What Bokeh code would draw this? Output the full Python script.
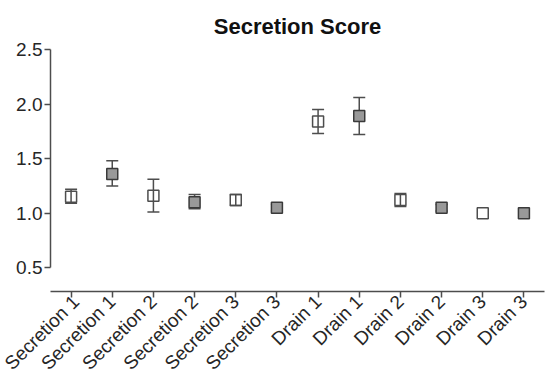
import math
from bokeh.plotting import figure
from bokeh.models import FixedTicker, Range1d, ColumnDataSource
from bokeh.embed import file_html
from bokeh.resources import INLINE

categories = ["Secretion 1", "Secretion 1", "Secretion 2", "Secretion 2", "Secretion 3", "Secretion 3",
              "Drain 1", "Drain 1", "Drain 2", "Drain 2", "Drain 3", "Drain 3"]
filled = [False, True, False, True, False, True, False, True, False, True, False, True]
means = [1.15, 1.36, 1.16, 1.10, 1.12, 1.05, 1.84, 1.89, 1.12, 1.05, 1.00, 1.00]
upper = [1.22, 1.48, 1.31, 1.17, 1.17, 1.08, 1.95, 2.06, 1.18, 1.08, 1.00, 1.00]
lower = [1.09, 1.25, 1.01, 1.04, 1.07, 1.02, 1.73, 1.72, 1.06, 1.02, 1.00, 1.00]
yticks = [0.5, 1.0, 1.5, 2.0, 2.5]

xs = list(range(1, len(categories) + 1))
has_err = [u > l for u, l in zip(upper, lower)]

FONT = "Liberation Sans"
AX = "#4d4d4d"
TXT = "#262626"

p = figure(width=546, height=384, output_backend="svg", toolbar_location=None,
           x_range=Range1d(0.5, len(categories) + 0.5), y_range=Range1d(0.282, 2.5),
           min_border_left=50, min_border_right=2, min_border_top=49, min_border_bottom=87)
p.outline_line_color = None
p.grid.grid_line_color = None

p.title.text = "Secretion Score"
p.title.align = "center"
p.title.text_font = FONT
p.title.text_font_size = "22px"
p.title.text_font_style = "bold"
p.title.text_color = "#111111"
p.title.standoff = 22

# y axis
p.yaxis.bounds = (yticks[0], yticks[-1])
p.yaxis.ticker = FixedTicker(ticks=yticks)
p.yaxis.major_label_overrides = {t: f"{t:.1f}" for t in yticks}
p.yaxis.minor_tick_line_color = None
p.yaxis.major_tick_in = 0
p.yaxis.major_tick_out = 6
p.yaxis.axis_line_color = AX
p.yaxis.major_tick_line_color = AX
p.yaxis.axis_line_width = 1.5
p.yaxis.major_tick_line_width = 1.5
p.yaxis.major_label_text_font = FONT
p.yaxis.major_label_text_font_size = "19px"
p.yaxis.major_label_text_color = TXT
p.yaxis.major_label_standoff = 2

# x axis
p.xaxis.ticker = FixedTicker(ticks=xs)
p.xaxis.major_label_overrides = {x: c for x, c in zip(xs, categories)}
p.xaxis.minor_tick_line_color = None
p.xaxis.major_tick_in = 0
p.xaxis.major_tick_out = 6
p.xaxis.axis_line_color = AX
p.xaxis.major_tick_line_color = AX
p.xaxis.axis_line_width = 1.5
p.xaxis.major_tick_line_width = 1.5
p.xaxis.major_label_text_font = FONT
p.xaxis.major_label_text_font_size = "19px"
p.xaxis.major_label_text_color = TXT
p.xaxis.major_label_orientation = math.pi / 4
p.xaxis.major_label_standoff = 1

err = ColumnDataSource(dict(
    x=[x for x, h in zip(xs, has_err) if h],
    lo=[l for l, h in zip(lower, has_err) if h],
    hi=[u for u, h in zip(upper, has_err) if h],
))
p.segment(x0="x", y0="lo", x1="x", y1="hi", source=err, line_color=AX, line_width=1.5)
p.scatter(x="x", y="lo", source=err, marker="dash", size=12, line_color=AX, line_width=1.5)
p.scatter(x="x", y="hi", source=err, marker="dash", size=12, line_color=AX, line_width=1.5)

open_src = ColumnDataSource(dict(
    x=[x for x, f in zip(xs, filled) if not f],
    y=[m for m, f in zip(means, filled) if not f],
    fill=["#ffffff" if not h else None for f, h in zip(filled, has_err) if not f],
))
p.scatter(x="x", y="y", source=open_src, marker="square", size=11,
          fill_color="fill", line_color=AX, line_width=1.5)

fill_src = ColumnDataSource(dict(
    x=[x for x, f in zip(xs, filled) if f],
    y=[m for m, f in zip(means, filled) if f],
))
p.scatter(x="x", y="y", source=fill_src, marker="square", size=11,
          fill_color="#999999", line_color="#3a3a3a", line_width=1.5)

open("out.html", "w").write(file_html(p, INLINE))
